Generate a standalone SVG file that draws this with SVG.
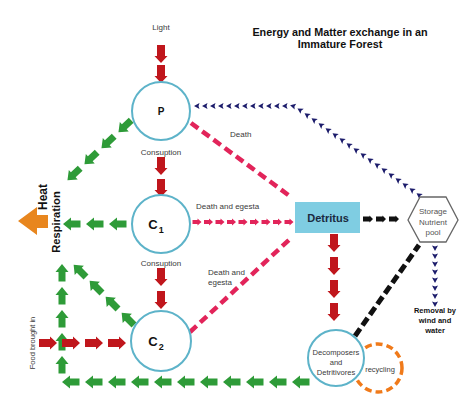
<svg xmlns="http://www.w3.org/2000/svg" width="474" height="418" viewBox="0 0 474 418">
<style>
text{font-family:"Liberation Sans",Arial,sans-serif;fill:#3a3a3a}
.lbl{font-size:8px}
.b{font-weight:bold;fill:#111}
.node{fill:#fff;stroke:#5db3c9;stroke-width:2}
.rc{fill:none;stroke:none;marker-start:url(#rA);marker-mid:url(#rA);marker-end:url(#rA)}
.gc{fill:none;stroke:none;marker-start:url(#gA);marker-mid:url(#gA);marker-end:url(#gA)}
.pc{fill:none;stroke:none;marker-start:url(#pA);marker-mid:url(#pA);marker-end:url(#pA)}
.kc{fill:none;stroke:none;marker-start:url(#kA);marker-mid:url(#kA);marker-end:url(#kA)}
.nc{fill:none;stroke:none;marker-start:url(#nA);marker-mid:url(#nA);marker-end:url(#nA)}
.pd{fill:none;stroke:#e2245a;stroke-width:4.5;stroke-dasharray:9 5}
.kd{fill:none;stroke:#111;stroke-width:5;stroke-dasharray:9 4}
</style>
<defs>
<marker id="rA" markerUnits="userSpaceOnUse" viewBox="-10 -10 20 20" markerWidth="20" markerHeight="20" refX="0" refY="0" orient="auto" overflow="visible"><path d="M9,0 L2,-6.5 L2,-4 L-9,-4 L-9,4 L2,4 L2,6.5 Z" fill="#c0161c"/></marker>
<marker id="gA" markerUnits="userSpaceOnUse" viewBox="-10 -10 20 20" markerWidth="20" markerHeight="20" refX="0" refY="0" orient="auto" overflow="visible"><path d="M9,0 L1,-6.5 L1,-3.5 L-8.5,-3.5 L-8.5,3.5 L1,3.5 L1,6.5 Z" fill="#2e9b38"/></marker>
<marker id="pA" markerUnits="userSpaceOnUse" viewBox="-10 -10 20 20" markerWidth="20" markerHeight="20" refX="0" refY="0" orient="auto" overflow="visible"><path d="M4.5,0 L0.5,-3.5 L0.5,-2 L-4.5,-2 L-4.5,2 L0.5,2 L0.5,3.5 Z" fill="#e2245a"/></marker>
<marker id="kA" markerUnits="userSpaceOnUse" viewBox="-10 -10 20 20" markerWidth="20" markerHeight="20" refX="0" refY="0" orient="auto" overflow="visible"><path d="M5,0 L1.5,-3.5 L1.5,-2.5 L-5,-2.5 L-5,2.5 L1.5,2.5 L1.5,3.5 Z" fill="#111"/></marker>
<marker id="nA" markerUnits="userSpaceOnUse" viewBox="-10 -10 20 20" markerWidth="20" markerHeight="20" refX="0" refY="0" orient="auto" overflow="visible"><path d="M3,0 L-2.5,-3 L-1.5,0 L-2.5,3 Z" fill="#1c1c6b"/></marker>
</defs>
<rect width="474" height="418" fill="#fff"/>

<g id="title">
<text x="340" y="36" text-anchor="middle" class="b" font-size="10.8">Energy and Matter exchange in an</text>
<text x="340" y="48" text-anchor="middle" class="b" font-size="10.8">Immature Forest</text>
</g>

<g id="connectors">
<polyline class="rc" points="161,54 161,74"/>
<polyline class="rc" points="161,166 161,188"/>
<polyline class="rc" points="161,277 161,300"/>
<polyline class="rc" points="334,243 334,266 334,289 334,312"/>
<polyline class="gc" points="125,126 108,142 91,158 74,174"/>
<polyline class="gc" points="118,224 95,224 72,224"/>
<polyline class="gc" points="128,319 112,303 96,287 80,271"/>
<polyline class="gc" points="62,365 62,342 62,319 62,296 62,273"/>
<polyline class="gc" points="301,382 278,382 255,382 232,382 209,382 186,382 163,382 140,382 117,382 94,382 71,382"/>
<polyline class="rc" points="48,343 71,343 94,343 117,343"/>
<line class="pd" x1="191" y1="123" x2="291" y2="197"/>
<line class="pd" x1="190" y1="332" x2="291" y2="238"/>
<polyline class="pc" points="197,222 208.5,222 220,222 231.5,222 243,222 254.5,222 266,222 277.5,222 289,222"/>
<polyline class="kc" points="368,219 381,219 394,219"/>
<line class="kd" x1="355" y1="336" x2="419" y2="245"/>
<polyline class="nc" points="419,195 412,190 405,185 398,180 391,175 384,170 377,165 370,160 363,155 356,150 349,145 342,140 335,135 328,130 321,125 314,120 307,115 300,110 293,106 285,106 277,106 269,106 261,106 253,106 245,106 237,106 229,106 221,106 213,106 205,106 197,106"/>
<polyline class="nc" points="435,248 435,256 435,264 435,272 435,280 435,288 435,296 435,304"/>
<path d="M18,221 L37,207 L37,215 L48,215 L48,228 L37,228 L37,235 Z" fill="#e8861e"/>
</g>

<g id="light"><text x="161" y="30" text-anchor="middle" class="lbl">Light</text></g>
<g id="P"><circle class="node" cx="161" cy="111" r="29"/><text x="161" y="115" text-anchor="middle" class="b" font-size="10">P</text></g>
<g id="C1"><circle class="node" cx="161" cy="224" r="29"/><text x="156" y="229" text-anchor="middle" class="b" font-size="13">C<tspan font-size="9" dx="1" dy="4">1</tspan></text></g>
<g id="C2"><circle class="node" cx="161" cy="341" r="30"/><text x="156" y="346" text-anchor="middle" class="b" font-size="13">C<tspan font-size="9" dx="1" dy="4">2</tspan></text></g>
<g id="detritus"><rect x="295" y="202" width="65" height="31" fill="#7fcde2"/><text x="328" y="222" text-anchor="middle" class="b" font-size="11" style="fill:#1a2a40">Detritus</text></g>
<g id="storage"><polygon points="408,220 420,197 446,197 458,220 446,242 420,242" fill="#fff" stroke="#666" stroke-width="1.3"/>
<text x="433" y="214" text-anchor="middle" class="lbl" style="fill:#555">Storage</text>
<text x="433" y="225" text-anchor="middle" class="lbl" style="fill:#555">Nutrient</text>
<text x="433" y="235" text-anchor="middle" class="lbl" style="fill:#555">pool</text></g>
<g id="recycling"><circle cx="378" cy="368" r="24" fill="none" stroke="#f07a1a" stroke-width="3.5" stroke-dasharray="7 4"/><text x="380" y="372" text-anchor="middle" font-size="7.5">recycling</text></g>
<g id="decomposers"><circle class="node" cx="336" cy="358" r="28"/>
<text x="336" y="355" text-anchor="middle" font-size="7.6">Decomposers</text>
<text x="336" y="365" text-anchor="middle" font-size="7.6">and</text>
<text x="336" y="375" text-anchor="middle" font-size="7.6">Detritivores</text></g>
<g id="heat">
<text transform="translate(47,197) rotate(-90)" text-anchor="middle" class="b" font-size="12">Heat</text>
<text transform="translate(60,222) rotate(-90)" text-anchor="middle" class="b" font-size="11.2">Respiration</text>
</g>
<g id="labels">
<text x="161" y="155" text-anchor="middle" class="lbl">Consuption</text>
<text x="161" y="266" text-anchor="middle" class="lbl">Consuption</text>
<text x="230" y="137" class="lbl">Death</text>
<text x="196" y="209" class="lbl">Death and egesta</text>
<text x="208" y="275" class="lbl">Death and</text>
<text x="208" y="285" class="lbl">egesta</text>
<text transform="translate(35,343) rotate(-90)" text-anchor="middle" font-size="7.5">Food brought in</text>
<text x="435" y="313" text-anchor="middle" class="b" font-size="7.5">Removal by</text>
<text x="435" y="323" text-anchor="middle" class="b" font-size="7.5">wind and</text>
<text x="435" y="333" text-anchor="middle" class="b" font-size="7.5">water</text>
</g>
</svg>
